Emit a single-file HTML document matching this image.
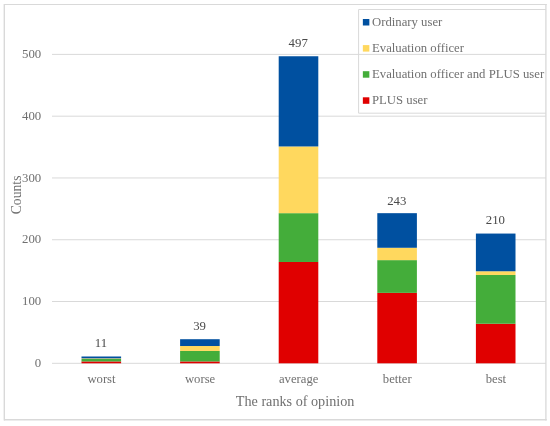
<!DOCTYPE html>
<html><head><meta charset="utf-8"><title>Chart</title>
<style>
html,body{margin:0;padding:0;background:#fff}
svg{display:block;font-family:"Liberation Serif",serif}
.s{font-size:12.8px;fill:#707070}
.l{font-size:12.72px;fill:#707070}
.c{font-size:12.7px;fill:#707070}
.v{font-size:12.8px;fill:#4a4a4a}
.t{font-size:14.2px;fill:#707070}
</style></head><body>
<svg width="550" height="426" viewBox="0 0 550 426">
<rect x="0" y="0" width="550" height="426" fill="#fff"/>
<line x1="52.0" x2="546.0" y1="363.30" y2="363.30" stroke="#d9d9d9" stroke-width="1"/>
<text x="41.2" y="367.00" text-anchor="end" class="s">0</text>
<line x1="52.0" x2="546.0" y1="301.52" y2="301.52" stroke="#d9d9d9" stroke-width="1"/>
<text x="41.2" y="305.22" text-anchor="end" class="s">100</text>
<line x1="52.0" x2="546.0" y1="239.74" y2="239.74" stroke="#d9d9d9" stroke-width="1"/>
<text x="41.2" y="243.44" text-anchor="end" class="s">200</text>
<line x1="52.0" x2="546.0" y1="177.96" y2="177.96" stroke="#d9d9d9" stroke-width="1"/>
<text x="41.2" y="181.66" text-anchor="end" class="s">300</text>
<line x1="52.0" x2="546.0" y1="116.18" y2="116.18" stroke="#d9d9d9" stroke-width="1"/>
<text x="41.2" y="119.88" text-anchor="end" class="s">400</text>
<line x1="52.0" x2="546.0" y1="54.40" y2="54.40" stroke="#d9d9d9" stroke-width="1"/>
<text x="41.2" y="58.10" text-anchor="end" class="s">500</text>
<rect x="81.50" y="361.45" width="39.6" height="1.85" fill="#e00000"/>
<rect x="81.50" y="358.98" width="39.6" height="2.47" fill="#44ad3a"/>
<rect x="81.50" y="358.36" width="39.6" height="0.62" fill="#ffd85e"/>
<rect x="81.50" y="356.50" width="39.6" height="1.85" fill="#0050a0"/>
<text x="101.00" y="347.00" text-anchor="middle" class="v">11</text>
<text x="101.50" y="382.75" text-anchor="middle" class="c">worst</text>
<rect x="180.10" y="361.45" width="39.6" height="1.85" fill="#e00000"/>
<rect x="180.10" y="350.94" width="39.6" height="10.50" fill="#44ad3a"/>
<rect x="180.10" y="346.00" width="39.6" height="4.94" fill="#ffd85e"/>
<rect x="180.10" y="339.21" width="39.6" height="6.80" fill="#0050a0"/>
<text x="199.60" y="330.41" text-anchor="middle" class="v">39</text>
<text x="200.10" y="382.75" text-anchor="middle" class="c">worse</text>
<rect x="278.70" y="261.98" width="39.6" height="101.32" fill="#e00000"/>
<rect x="278.70" y="213.17" width="39.6" height="48.81" fill="#44ad3a"/>
<rect x="278.70" y="146.45" width="39.6" height="66.72" fill="#ffd85e"/>
<rect x="278.70" y="56.25" width="39.6" height="90.20" fill="#0050a0"/>
<text x="298.20" y="47.45" text-anchor="middle" class="v">497</text>
<text x="298.70" y="382.75" text-anchor="middle" class="c">average</text>
<rect x="377.30" y="292.87" width="39.6" height="70.43" fill="#e00000"/>
<rect x="377.30" y="260.13" width="39.6" height="32.74" fill="#44ad3a"/>
<rect x="377.30" y="247.77" width="39.6" height="12.36" fill="#ffd85e"/>
<rect x="377.30" y="213.17" width="39.6" height="34.60" fill="#0050a0"/>
<text x="396.80" y="204.77" text-anchor="middle" class="v">243</text>
<text x="397.30" y="382.75" text-anchor="middle" class="c">better</text>
<rect x="475.90" y="323.76" width="39.6" height="39.54" fill="#e00000"/>
<rect x="475.90" y="274.95" width="39.6" height="48.81" fill="#44ad3a"/>
<rect x="475.90" y="271.25" width="39.6" height="3.71" fill="#ffd85e"/>
<rect x="475.90" y="233.56" width="39.6" height="37.69" fill="#0050a0"/>
<text x="495.40" y="224.46" text-anchor="middle" class="v">210</text>
<text x="495.90" y="382.75" text-anchor="middle" class="c">best</text>
<polyline points="546,9.5 358.6,9.5 358.6,113.2 546,113.2" fill="none" stroke="#d9d9d9"/>
<rect x="362.85" y="19.00" width="6.5" height="6.5" fill="#0050a0"/>
<text x="372.0" y="26.05" class="l">Ordinary user</text>
<rect x="362.85" y="45.10" width="6.5" height="6.5" fill="#ffd85e"/>
<text x="372.0" y="52.15" class="l">Evaluation officer</text>
<rect x="362.85" y="71.20" width="6.5" height="6.5" fill="#44ad3a"/>
<text x="372.0" y="78.25" class="l">Evaluation officer and PLUS user</text>
<rect x="362.85" y="97.30" width="6.5" height="6.5" fill="#e00000"/>
<text x="372.0" y="104.35" class="l">PLUS user</text>
<text x="295.1" y="406.1" text-anchor="middle" class="t">The ranks of opinion</text>
<text transform="translate(20.5,194.9) rotate(-90)" text-anchor="middle" class="t" style="font-size:13.7px">Counts</text>
<line x1="4.3" x2="4.3" y1="4" y2="420.5" stroke="#d9d9d9" stroke-width="1.4"/>
<line x1="4" x2="546.75" y1="4.5" y2="4.5" stroke="#d9d9d9" stroke-width="1.1"/>
<line x1="545.9" x2="545.9" y1="4" y2="420.5" stroke="#d9d9d9" stroke-width="1.3"/>
<line x1="4" x2="546.75" y1="419.75" y2="419.75" stroke="#d9d9d9" stroke-width="1.5"/>
</svg>
</body></html>
